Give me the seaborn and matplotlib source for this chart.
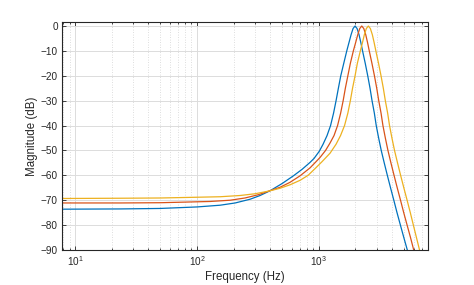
import matplotlib
matplotlib.use("Agg")
import matplotlib.pyplot as plt
from matplotlib.ticker import LogLocator, NullFormatter
import seaborn as sns
import pandas as pd

# values (Hz, dB)
blue_f = [7.8, 23.4, 50, 100, 155, 206, 273, 330, 398, 500, 619, 729, 848, 915, 1011,
          1085, 1170, 1250, 1323, 1387, 1449, 1516, 1604, 1698, 1774, 1842, 1913,
          1986,
          2063, 2142, 2212, 2289, 2408, 2524, 2636, 2738, 2860, 2964, 3102, 3258,
          3448, 3656, 3884, 4133, 4391, 4681, 4993, 5334]
blue_db = [-73.6, -73.5, -73.3, -72.7, -72.0, -71.1, -69.6, -68.1, -66.2, -63.3,
           -60.2, -57.6, -54.8, -53.2, -50.3, -47.5, -44, -40, -35, -30, -25, -20,
           -15, -10, -6.5, -3.5, -1,
           0,
           -1, -3.5, -6.5, -10, -15, -20, -25, -30, -35, -40, -45, -50, -55, -60,
           -65, -70, -75, -80, -85, -90]

orange_f = [7.8, 23.4, 50, 87.9, 128, 187, 248, 318, 391, 481, 581, 702, 848, 950,
            1025, 1137, 1238, 1335, 1427, 1512, 1586, 1653, 1733, 1817, 1923, 2012,
            2090, 2170,
            2254,
            2342, 2431, 2511, 2598, 2733, 2865, 2992, 3108, 3246, 3364, 3521, 3698,
            3913, 4150, 4408, 4691, 4984, 5313, 5667, 6020]
orange_db = [-71.1, -71.1, -71.0, -70.7, -70.5, -70.0, -69.1, -67.8, -66.3, -64.8,
             -62.8, -60.2, -57.0, -54.5, -52.8, -50, -47, -44, -40, -35, -30, -25,
             -20, -15, -10, -6.5, -3.5, -1,
             0,
             -1, -3.5, -6.5, -10, -15, -20, -25, -30, -35, -40, -45, -50, -55, -60,
             -65, -70, -75, -80, -85, -90]

yellow_f = [7.8, 23.4, 50, 100, 155, 226, 300, 391, 481, 581, 702, 817, 932, 1064,
            1238, 1387, 1510, 1628, 1733, 1817, 1894, 1986, 2074, 2195, 2289, 2367,
            2459,
            2553,
            2652, 2754, 2844, 2943, 3096, 3245, 3389, 3520, 3677, 3811, 3988, 4188,
            4433, 4700, 4993, 5313, 5645, 5980, 6340, 6720]
yellow_db = [-69.3, -69.2, -69.1, -68.8, -68.6, -68.1, -67.4, -66.3, -65.2, -63.8,
             -62.0, -60.0, -57.3, -54.5, -51.1, -47.5, -44, -40, -35, -30, -25, -20,
             -15, -10, -6.5, -3.5, -1,
             0,
             -1, -3.5, -6.5, -10, -15, -20, -25, -30, -35, -40, -45, -50, -55, -60,
             -65, -70, -75, -80, -85, -90]

names = ["a", "b", "c"]
colors = ["#0072BD", "#D95319", "#EDB120"]

df = pd.concat([
    pd.DataFrame({"f": blue_f, "db": blue_db, "s": names[0]}),
    pd.DataFrame({"f": orange_f, "db": orange_db, "s": names[1]}),
    pd.DataFrame({"f": yellow_f, "db": yellow_db, "s": names[2]}),
])

sns.set_theme(style="ticks")
plt.rcParams["font.family"] = ["Liberation Sans", "DejaVu Sans"]
plt.rcParams["mathtext.fontset"] = "custom"
plt.rcParams["mathtext.rm"] = "Liberation Sans"

fig = plt.figure(figsize=(4.74, 2.85), dpi=100)
ax = fig.add_axes([0.1308, 0.1228, 0.904 - 0.1308, 0.9218 - 0.1228])

ax.set_xscale("log")
ax.grid(True, which="major", color="#dcdcdc", lw=0.7, ls="-")
ax.xaxis.set_minor_locator(LogLocator(base=10, subs=range(2, 10)))
ax.xaxis.set_minor_formatter(NullFormatter())
ax.grid(True, which="minor", axis="x", color="#d2d2d2", lw=0.6, ls=(0, (1, 2)))
ax.set_axisbelow(True)

sns.lineplot(data=df, x="f", y="db", hue="s", palette=colors, lw=0.9,
             legend=False, ax=ax, sort=False)

ax.set_xlim(7.8, 7960)
ax.set_ylim(-90, 1.5)
ax.set_yticks(range(-90, 1, 10))

ax.set_xlabel("Frequency (Hz)", fontsize=8.3, color="#262626", labelpad=2)
ax.set_ylabel("Magnitude (dB)", fontsize=8.3, color="#262626", labelpad=2)

for sp in ax.spines.values():
    sp.set_color("#262626")
    sp.set_linewidth(0.8)
ax.tick_params(which="both", direction="in", top=True, right=True,
               colors="#262626", labelsize=7.2, width=0.6)
ax.tick_params(which="major", length=3, pad=3)
ax.tick_params(which="minor", length=1.6)

fig.savefig("out.png", dpi=100)
